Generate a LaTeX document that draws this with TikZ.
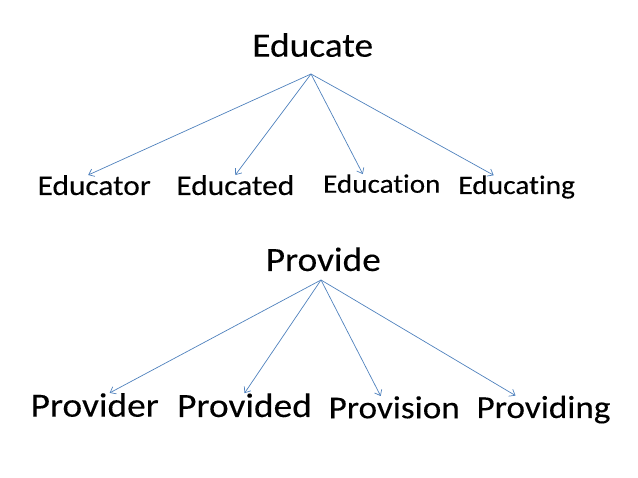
\documentclass[tikz,border=0pt]{standalone}
\usepackage{fontspec}
\setmainfont[FakeStretch=1.1, FakeBold=0.2, RawFeature=-liga]{Carlito}
\usetikzlibrary{arrows.meta}
\definecolor{linkBlue}{RGB}{79, 129, 189}

\begin{document}
\begin{tikzpicture}[x=1pt, y=-1pt]
    % Styles
    \tikzstyle{word} = [inner sep=0pt, anchor=base, text=black]
    \tikzstyle{root} = [word, font=\fontsize{34}{40}\selectfont]
    \tikzstyle{leaf} = [word, font=\fontsize{28.5}{34}\selectfont]
    \tikzstyle{arrow} = [-{Straight Barb[length=5pt, width=8pt]}, linkBlue, line width=0.7pt]
    \useasboundingbox (0,0) rectangle (638,478);

    % Educate
    \node[root] (educate) at (312.7, 56.7) {Educate};
    \coordinate (educateTip) at (311, 74);
    \node[leaf] (educator) at (94.2, 195) {Educator};
    \node[leaf] (educated) at (235.3, 195) {Educated};
    \node[leaf, font=\fontsize{26.5}{32}\selectfont] (education) at (381.8, 192.7) {Education};
    \node[leaf, font=\fontsize{26.7}{32}\selectfont] (educating) at (516.7, 194) {Educating};

    % Provide
    \node[root] (provide) at (323.3, 271) {Provide};
    \coordinate (provideTip) at (321, 280);
    \node[root] (provider) at (94.7, 416.7) {Provider};
    \node[root] (provided) at (244.5, 417) {Provided};
    \node[root, font=\fontsize{32}{38}\selectfont] (provision) at (394.2, 418.3) {Provision};
    \node[root, font=\fontsize{32}{38}\selectfont] (providing) at (543.5, 418) {Providing};

    % Arrows
    \draw[arrow] (educateTip) -- ([xshift=-6pt]educator.north);
    \draw[arrow] (educateTip) -- (educated.north);
    \draw[arrow] (educateTip) -- ([xshift=-19pt]education.north);
    \draw[arrow] (educateTip) -- ([xshift=-23pt]educating.north);
    \draw[arrow] (provideTip) -- ([xshift=15pt]provider.north);
    \draw[arrow] (provideTip) -- (provided.north);
    \draw[arrow] (provideTip) -- ([xshift=-13.5pt]provision.north);
    \draw[arrow] (provideTip) -- ([xshift=-28pt]providing.north);
\end{tikzpicture}
\end{document}
